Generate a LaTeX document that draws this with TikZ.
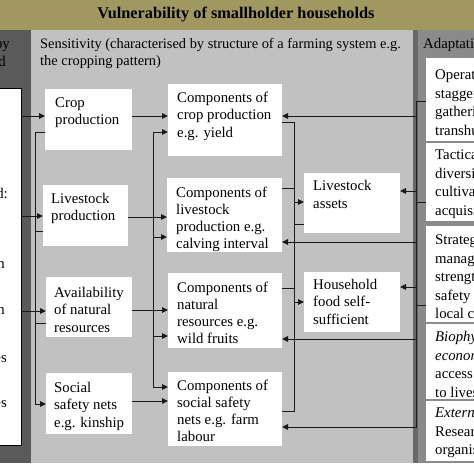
\documentclass[tikz,border=0pt]{standalone}
\usepackage{fontspec}
\setmainfont{Liberation Serif}
\usetikzlibrary{arrows.meta}
\definecolor{titlebg}{RGB}{160,152,94}
\definecolor{leftbg}{RGB}{90,90,90}
\definecolor{sensbg}{RGB}{193,193,193}
\definecolor{adaptbg}{RGB}{138,138,138}
\definecolor{adaptstrip}{RGB}{105,105,105}
\newcommand\bodyfont{\fontsize{14.8}{17.5}\selectfont}
\newcommand\tightfont{\fontsize{14.8}{17}\selectfont}
\newcommand\rightfont{\fontsize{14.8}{18.4}\selectfont}
\newcommand\hdrfont{\fontsize{14.4}{17}\selectfont}
\newcommand\ttlfont{\fontsize{16.3}{18}\selectfont\bfseries}
\tikzset{
  ln/.style={line width=1pt, draw=black!90},
  arr/.style={ln, -{Triangle[length=6pt,width=5.5pt]}},
  wbox/.style={fill=white, inner sep=0pt, outer sep=0pt, anchor=north west},
  txt/.style={font=\bodyfont, align=left, inner sep=0pt, anchor=base west},
}
\begin{document}
\begin{tikzpicture}[x=1pt,y=-1pt]
\useasboundingbox (0,0) rectangle (474,474);
\clip (0,0) rectangle (474,474);
% background panels
\fill[white] (0,0) rectangle (474,474);
\fill[titlebg] (0,0) rectangle (474,30);
\fill[leftbg] (0,30) rectangle (31,463);
\fill[sensbg] (31,30) rectangle (413,463);
\fill[adaptbg] (413,30) rectangle (474,463);
\fill[adaptstrip] (413,30) rectangle (418,463);
% title and headers (text anchors are at the baseline of the last line)
\node[font=\ttlfont, inner sep=0pt] (title) at (236,15) {Vulnerability of smallholder households};
\node[txt, font=\hdrfont] (senshdr) at (40,65) {Sensitivity (characterised by structure of a farming system e.g.\\the cropping pattern)};
\node[txt] (adapthdr) at (423,48) {Adaptatio};
\node[txt, anchor=base east] (expo1) at (10,48) {by};
\node[txt, anchor=base east] (expo2) at (6,66) {d};
% left (exposure) box
\node[wbox, draw=black, line width=0.8pt, minimum width=24pt, minimum height=357pt] (leftbox) at (-3,88) {};
\node[txt, anchor=base east] (lt1) at (8,198) {d:};
\node[txt, anchor=base east] (lt2) at (5,268) {n};
\node[txt, anchor=base east] (lt3) at (5,314) {n};
\node[txt, anchor=base east] (lt4) at (7,362) {es};
\node[txt, anchor=base east] (lt5) at (7,407) {es};
% sensitivity column 1
\node[wbox, minimum width=87pt, minimum height=61pt] (crop) at (45,89) {};
\node[txt] (cropT) at (55,124.5) {Crop\\production};
\node[wbox, minimum width=85pt, minimum height=61pt] (liveprod) at (43,185) {};
\node[txt] (liveprodT) at (51,220.5) {Livestock\\production};
\node[wbox, minimum width=86pt, minimum height=60pt] (avail) at (46,277) {};
\node[txt] (availT) at (54,332) {Availability\\of natural\\resources};
\node[wbox, minimum width=86pt, minimum height=61pt] (social) at (46,373) {};
\node[txt] (socialT) at (54,427) {Social\\safety nets\\e.g. kinship};
% components column
\node[wbox, minimum width=114pt, minimum height=72pt] (compcrop) at (168,84) {};
\node[txt] (compcropT) at (177,137) {Components of\\crop production\\e.g. yield};
\node[wbox, minimum width=115pt, minimum height=74pt] (complive) at (167,178) {};
\node[txt, font=\tightfont] (compliveT) at (176,248) {Components of\\livestock\\production e.g.\\calving interval};
\node[wbox, minimum width=114pt, minimum height=75pt] (compnat) at (168,273) {};
\node[txt, font=\tightfont] (compnatT) at (177,343) {Components of\\natural\\resources e.g.\\wild fruits};
\node[wbox, minimum width=114pt, minimum height=74pt] (compsoc) at (168,372) {};
\node[txt, font=\tightfont] (compsocT) at (177,441) {Components of\\social safety\\nets e.g. farm\\labour};
% outcomes column
\node[wbox, minimum width=96pt, minimum height=60pt] (lassets) at (304,173) {};
\node[txt] (lassetsT) at (313,208) {Livestock\\assets};
\node[wbox, minimum width=96pt, minimum height=60pt] (hfood) at (304,272) {};
\node[txt] (hfoodT) at (313,324) {Household\\food self-\\sufficient};
% adaptation boxes (cut at the right edge)
\node[wbox, minimum width=60pt, minimum height=83pt] (r1) at (426,58) {};
\node[txt, font=\rightfont] (r1T) at (435,135) {Operat\\stagger\\gatheri\\transhu};
\node[wbox, minimum width=60pt, minimum height=78pt] (r2) at (426,143) {};
\node[txt, font=\rightfont] (r2T) at (435,215) {Tactica\\diversi\\cultiva\\acquisi};
\node[wbox, minimum width=60pt, minimum height=96pt] (r3) at (426,226) {};
\node[txt, font=\rightfont] (r3T) at (435,318.5) {Strateg\\manag\\strengt\\safety\\local c};
\node[wbox, minimum width=60pt, minimum height=75pt] (r4) at (426,324) {};
\node[txt, font=\rightfont] (r4T) at (435,397) {\textit{Biophy}\\\textit{econom}\\access\\to lives};
\node[wbox, minimum width=60pt, minimum height=60pt] (r5) at (426,401) {};
\node[txt, font=\rightfont] (r5T) at (435,454.5) {\textit{Extern}\\Resear\\organis};
% bus points
\coordinate (busL) at (35,132);
\coordinate (busM) at (153,132);
\coordinate (busR) at (294,122);
\coordinate (busA) at (416,101);
% exposure -> sensitivity
\draw[arr] (leftbox.east|-0,116) -- (crop.west|-0,116);
\draw[arr] (leftbox.east|-0,216) -- (liveprod.west|-0,216);
\draw[arr] (leftbox.east|-0,311) -- (avail.west|-0,311);
% left bus
\draw[arr] (crop.west|-0,132) -- (busL) -- (35,404) -- (social.west|-0,404);
\draw[ln] (liveprod.west|-0,231) -- (35,231);
\draw[ln] (avail.west|-0,323) -- (35,323);
% sensitivity -> components
\draw[arr] (crop.east|-0,116) -- (compcrop.west|-0,116);
\draw[arr] (liveprod.east|-0,217) -- (complive.west|-0,217);
\draw[arr] (avail.east|-0,310) -- (compnat.west|-0,310);
\draw[arr] (social.east|-0,401) -- (compsoc.west|-0,401);
% middle bus
\draw[ln] (busM) -- (153,387);
\draw[arr] (busM) -- (compcrop.west|-0,132);
\draw[arr] (153,237) -- (complive.west|-0,237);
\draw[arr] (153,336) -- (compnat.west|-0,336);
\draw[arr] (153,387) -- (compsoc.west|-0,387);
% components bus
\draw[ln] (compcrop.east|-0,122) -- (busR) -- (294,411) -- (compsoc.east|-0,411);
\draw[ln] (complive.east|-0,188) -- (294,188);
\draw[ln] (compnat.east|-0,288) -- (294,288);
\draw[arr] (294,202) -- (lassets.west|-0,202);
\draw[arr] (294,302) -- (hfood.west|-0,302);
\draw[ln] (lassets.west|-0,224) -- (294,224);
% adaptation bus
\draw[arr] (r1.west|-0,101) -- (busA) -- (416,427) -- (compsoc.east|-0,427);
\draw[ln] (r2.west|-0,202) -- (416,202);
\draw[ln] (r3.west|-0,305) -- (416,305);
\draw[arr] (416,116) -- (compcrop.east|-0,116);
\draw[arr] (416,191) -- (lassets.east|-0,191);
\draw[arr] (416,242) -- (complive.east|-0,242);
\draw[arr] (416,287) -- (hfood.east|-0,287);
\draw[arr] (416,339) -- (compnat.east|-0,339);
\end{tikzpicture}
\end{document}
